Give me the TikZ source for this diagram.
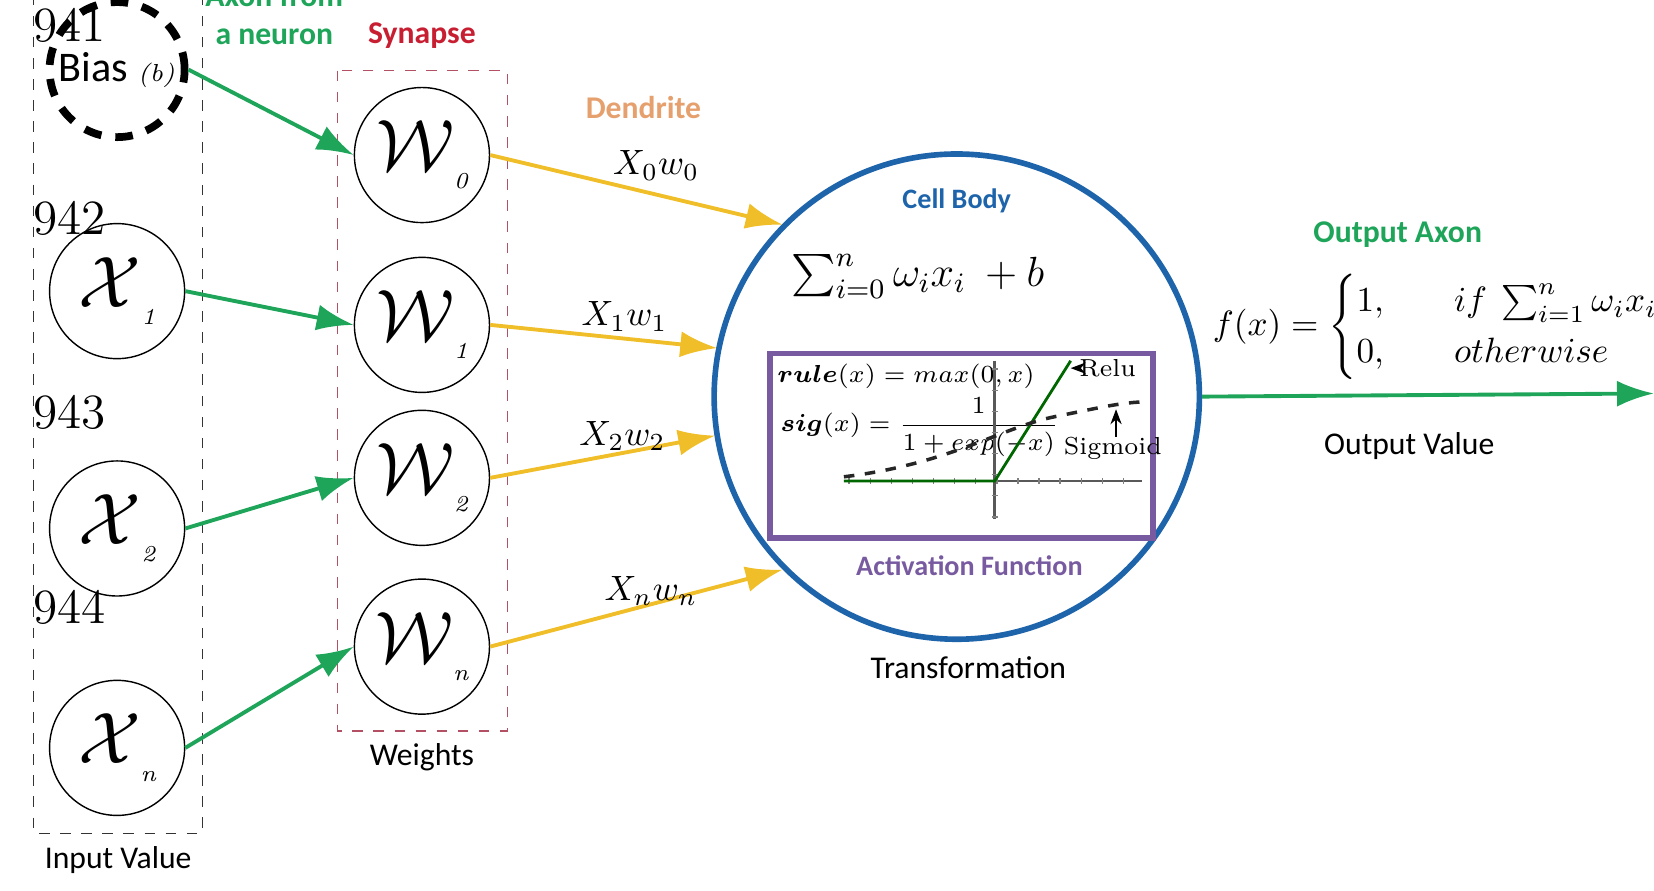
\documentclass[tikz,border=0pt]{standalone}
\usepackage{amsmath,amssymb}
\usepackage{fontspec}
\setmainfont{Carlito}
\newfontfamily\lmserif{Latin Modern Roman}
\usetikzlibrary{arrows.meta}
\definecolor{axongreen}{RGB}{30,165,90}
\definecolor{dendrite}{RGB}{240,190,40}
\definecolor{cellblue}{RGB}{30,100,170}
\definecolor{synred}{RGB}{200,30,50}
\definecolor{synbox}{RGB}{180,80,100}
\definecolor{actpurple}{RGB}{120,90,160}
\definecolor{dendtxt}{RGB}{230,160,110}
\newcommand{\unitlab}[2]{\fontsize{21}{21}\selectfont$\mathcal{#1}$\raisebox{-0.5ex}{\lmserif\itshape\fontsize{6.5}{6.5}\selectfont #2}}
\tikzset{
  unit/.style={circle,draw,minimum size=1.35cm,inner sep=0pt},
  axon/.style={draw=axongreen,line width=1.1pt,-{Latex[length=3.7mm,width=2.6mm]}},
  dend/.style={draw=dendrite,line width=1.1pt,-{Latex[length=3.7mm,width=2.6mm]}},
  lbl/.style={font=\fontsize{9}{11}\selectfont},
  blbl/.style={font=\bfseries\fontsize{9}{11}\selectfont},
  num/.style={font=\lmserif\fontsize{14}{14}\selectfont}
}
\begin{document}
\begin{tikzpicture}[x=0.01055cm,y=-0.01055cm]
\useasboundingbox (0,0) rectangle (1568,844);
\clip (0,0) rectangle (1568,844);
% input layer
\draw[dashed,gray!40!black] (32,-5) rectangle (192,790);
\node[lbl] (inlab) at (112,815) {Input Value};
\node[unit,line width=2.2pt,dash pattern=on 5pt off 4pt] (bias) at (111,66) {\fontsize{12}{12}\selectfont Bias \textit{\lmserif\scriptsize(b)}};
\node[unit] (x1) at (111,276) {\unitlab{X}{1}};
\node[unit] (x2) at (111,501) {\unitlab{X}{2}};
\node[unit] (xn) at (111,709) {\unitlab{X}{n}};
\node[num] (n1) at (66,24) {941};
\node[num] (n2) at (66,207) {942};
\node[num] (n3) at (66,391) {943};
\node[num] (n4) at (66,576) {944};
\node[blbl,text=axongreen,align=center,overlay] (axlab) at (260,14) {Axon from\\a neuron};
% synapse
\draw[dashed,synbox] (320,67) rectangle (481,693);
\node[blbl,text=synred] (synlab) at (400,34) {Synapse};
\node[lbl] (wlab) at (400,718) {Weights};
\node[unit] (w0) at (400,147) {\unitlab{W}{0}};
\node[unit] (w1) at (400,308) {\unitlab{W}{1}};
\node[unit] (w2) at (400,453) {\unitlab{W}{2}};
\node[unit] (wn) at (400,613) {\unitlab{W}{n}};
\draw[axon] (bias.east) -- (w0.west);
\draw[axon] (x1.east) -- (w1.west);
\draw[axon] (x2.east) -- (w2.west);
\draw[axon] (xn.east) -- (wn.west);
% cell body
\node[circle,draw=cellblue,line width=1.6pt,minimum size=4.85cm] (cell) at (907,376) {};
\node[blbl,text=dendtxt] (dlab) at (610,102) {Dendrite};
\coordinate (e0) at (742,213);
\coordinate (e1) at (680,330);
\coordinate (e2) at (678,413);
\coordinate (en) at (742,540);
\draw[dend] (w0.east) -- (e0);
\draw[dend] (w1.east) -- (e1);
\draw[dend] (w2.east) -- (e2);
\draw[dend] (wn.east) -- (en);
\node (l0) at (622,157) {$X_0w_0$};
\node (l1) at (592,300) {$X_1w_1$};
\node (l2) at (590,413) {$X_2w_2$};
\node (ln) at (617,560) {$X_nw_n$};
\node[blbl,font=\bfseries\fontsize{8}{10}\selectfont,text=cellblue] (cblab) at (907,190) {Cell Body};
\node[font=\large] (sum) at (870,262) {$\sum_{i=0}^{n}\omega_i x_i\ +b$};
\node[blbl,font=\bfseries\fontsize{8}{10}\selectfont,text=actpurple] (aflab) at (919,536) {Activation Function};
\node[lbl] (trlab) at (918,633) {Transformation};
% activation box
\draw[actpurple,line width=1.6pt] (730,335) rectangle (1093,510);
\node[anchor=west,font=\scriptsize,inner sep=1pt] (relu) at (733,357) {$\boldsymbol{rule}(x)=max(0,x)$};
\node[anchor=west,font=\scriptsize,inner sep=1pt] (sig) at (736,405) {$\boldsymbol{sig}(x)=\dfrac{1}{1+exp(-x)}$};
\draw[gray!70!black,line width=0.8pt] (943,342) -- (943,492);
\draw[gray!70!black,line width=0.8pt] (800,456) -- (1083,456);
\foreach \t in {805,825,...,1080} \draw[gray] (\t,453) -- (\t,459);
\foreach \t in {350,370,...,490} \draw[gray] (940,\t) -- (946,\t);
\draw[green!40!black,line width=0.8pt] (800,456) -- (943,456) -- (1015,342);
\draw[dashed,gray!30!black,line width=1pt] (800,452) .. controls (900,440) and (950,405) .. (1000,395) .. controls (1040,387) and (1060,382) .. (1083,381);
\node[font=\lmserif\fontsize{7}{8}\selectfont,inner sep=1pt] (relutxt) at (1050,349) {Relu};
\node[font=\lmserif\fontsize{7}{8}\selectfont,inner sep=1pt] (sigtxt) at (1055,425) {Sigmoid};
\draw[-{Stealth[length=1.5mm]}] (relutxt.west) -- (1015,349);
\draw[-{Stealth[length=1.5mm]}] (1058,414) -- (1058,388);
% output
\coordinate (out) at (1568,373);
\draw[axon] (cell.east) -- (out);
\node[blbl,text=axongreen] (oalab) at (1325,222) {Output Axon};
\node[lbl] (ovlab) at (1336,423) {Output Value};
\node[anchor=west,overlay] (fx) at (1138,310) {$f(x)=\begin{cases}1, & \quad if\ \sum_{i=1}^{n}\omega_i x_i\ +b>0\\ 0, & \quad otherwise\end{cases}$};
\end{tikzpicture}
\end{document}
